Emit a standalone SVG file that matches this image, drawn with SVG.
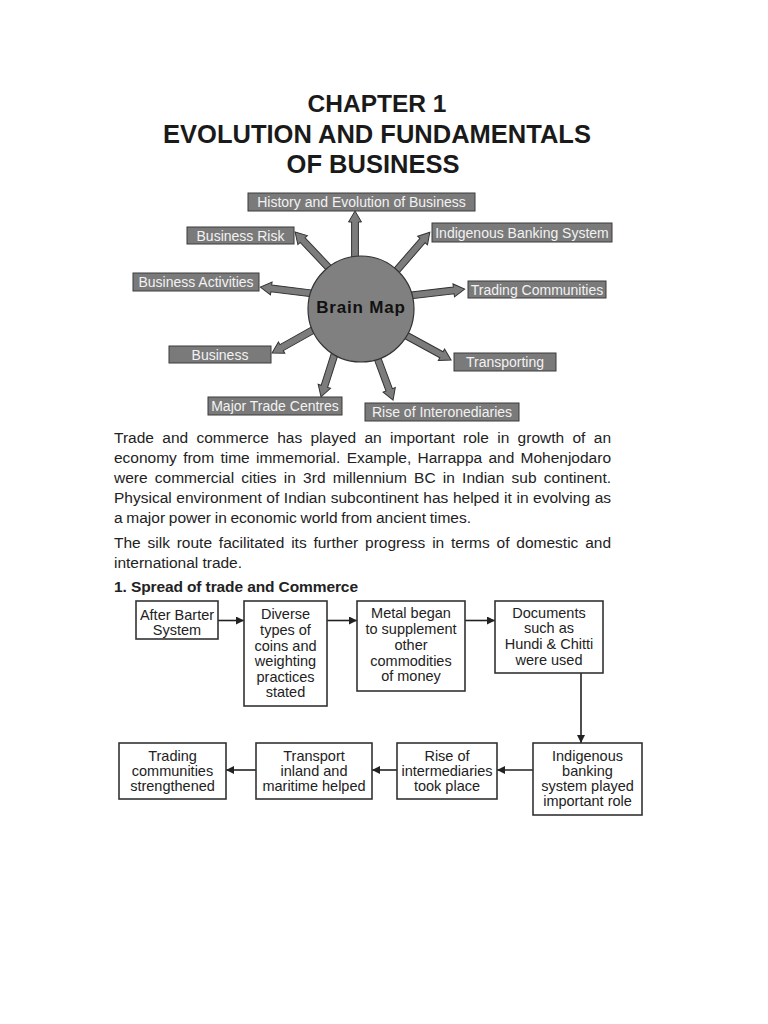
<svg xmlns="http://www.w3.org/2000/svg" width="768" height="1024" viewBox="0 0 768 1024">
<style>
.title{font-family:"Liberation Sans",Arial,sans-serif;font-weight:bold;fill:#1a1a1a;text-anchor:middle}
.mbox{fill:#7a7a7a;stroke:#3a3a3a;stroke-width:1}
.mtxt{font-family:"Liberation Sans",Arial,sans-serif;font-size:14px;fill:#f2f2f2;text-anchor:middle}
.marr{fill:#7c7c7c;stroke:#333;stroke-width:1;stroke-linejoin:miter}
.para{font-family:"Liberation Sans",Arial,sans-serif;font-size:15.5px;fill:#222}
.fbox{fill:#fff;stroke:#333;stroke-width:1.6}
.ftxt{font-family:"Liberation Sans",Arial,sans-serif;font-size:14.5px;fill:#222;text-anchor:middle}
.flink{fill:none;stroke:#222;stroke-width:1.6}
</style>
<defs>
<marker id="ah" markerUnits="userSpaceOnUse" markerWidth="9" markerHeight="8" refX="8" refY="4" orient="auto">
<path d="M0,0 L8,4 L0,8 z" fill="#222"/>
</marker>
</defs>
<rect width="768" height="1024" fill="#fff"/>

<g id="heading">
<text class="title" x="377" y="112" font-size="24.5">CHAPTER 1</text>
<text class="title" x="377" y="143" font-size="25.5">EVOLUTION AND FUNDAMENTALS</text>
<text class="title" x="373" y="173" font-size="25.5">OF BUSINESS</text>
</g>

<g id="brain-connectors">
<polygon class="marr" transform="translate(355,257) rotate(-90)" points="-10,-3.4 35,-3.4 35,-6.5 46,0 35,6.5 35,3.4 -10,3.4"/>
<polygon class="marr" transform="translate(328,267) rotate(-133.3)" points="-10,-3.4 37,-3.4 37,-6.5 48,0 37,6.5 37,3.4 -10,3.4"/>
<polygon class="marr" transform="translate(397,270) rotate(-49)" points="-10,-3.4 39,-3.4 39,-6.5 50,0 39,6.5 39,3.4 -10,3.4"/>
<polygon class="marr" transform="translate(308,293) rotate(-172.9)" points="-10,-3.4 37,-3.4 37,-6.5 48,0 37,6.5 37,3.4 -10,3.4"/>
<polygon class="marr" transform="translate(415,295) rotate(-6.8)" points="-10,-3.4 39,-3.4 39,-6.5 50,0 39,6.5 39,3.4 -10,3.4"/>
<polygon class="marr" transform="translate(313,330) rotate(150.7)" points="-10,-3.4 36,-3.4 36,-6.5 47,0 36,6.5 36,3.4 -10,3.4"/>
<polygon class="marr" transform="translate(335,353) rotate(107.7)" points="-10,-3.4 35,-3.4 35,-6.5 46,0 35,6.5 35,3.4 -10,3.4"/>
<polygon class="marr" transform="translate(377,357) rotate(69.6)" points="-10,-3.4 35,-3.4 35,-6.5 46,0 35,6.5 35,3.4 -10,3.4"/>
<polygon class="marr" transform="translate(409,337) rotate(28.7)" points="-10,-3.4 37,-3.4 37,-6.5 48,0 37,6.5 37,3.4 -10,3.4"/>
</g>

<g id="brain-map">
<circle cx="361" cy="309" r="53" fill="#808080" stroke="#333" stroke-width="1.2"/>
<text x="361" y="313" font-family="'Liberation Sans',Arial,sans-serif" font-weight="bold" font-size="17" letter-spacing="0.8" fill="#111" text-anchor="middle">Brain Map</text>
</g>
<g id="m-history"><rect class="mbox" x="248" y="193" width="227" height="18"/><text class="mtxt" x="361.5" y="207">History and Evolution of Business</text></g>
<g id="m-risk"><rect class="mbox" x="187" y="227" width="107" height="17"/><text class="mtxt" x="240.5" y="240.5">Business Risk</text></g>
<g id="m-banking"><rect class="mbox" x="432" y="223" width="180" height="19"/><text class="mtxt" x="522" y="237.5">Indigenous Banking System</text></g>
<g id="m-activities"><rect class="mbox" x="133" y="273" width="126" height="18"/><text class="mtxt" x="196" y="287">Business Activities</text></g>
<g id="m-trading"><rect class="mbox" x="468" y="281" width="138" height="17"/><text class="mtxt" x="537" y="294.5">Trading Communities</text></g>
<g id="m-business"><rect class="mbox" x="169" y="346" width="102" height="17"/><text class="mtxt" x="220" y="359.5">Business</text></g>
<g id="m-centres"><rect class="mbox" x="208" y="397" width="134" height="18"/><text class="mtxt" x="275" y="411">Major Trade Centres</text></g>
<g id="m-rise"><rect class="mbox" x="365" y="403" width="154" height="18"/><text class="mtxt" x="442" y="417">Rise of Interonediaries</text></g>
<g id="m-transport"><rect class="mbox" x="454" y="353" width="102" height="18"/><text class="mtxt" x="505" y="367">Transporting</text></g>

<g id="paragraph">
<text class="para" x="114" y="442.5" word-spacing="4" textLength="497" lengthAdjust="spacing">Trade and commerce has played an important role in growth of an</text>
<text class="para" x="114" y="462.8" word-spacing="2" textLength="497" lengthAdjust="spacing">economy from time immemorial. Example, Harrappa and Mohenjodaro</text>
<text class="para" x="114" y="483.2" word-spacing="2.9" textLength="497" lengthAdjust="spacing">were commercial cities in 3rd millennium BC in Indian sub continent.</text>
<text class="para" x="114" y="503.3" word-spacing="0.3" textLength="497" lengthAdjust="spacing">Physical environment of Indian subcontinent has helped it in evolving as</text>
<text class="para" x="114" y="522.8" word-spacing="-0.6" textLength="357" lengthAdjust="spacing">a major power in economic world from ancient times.</text>
<text class="para" x="114" y="548.3" word-spacing="2.5" textLength="497" lengthAdjust="spacing">The silk route facilitated its further progress in terms of domestic and</text>
<text class="para" x="114" y="568.3" textLength="128" lengthAdjust="spacing">international trade.</text>
<text class="para" x="114" y="592" font-weight="bold" textLength="244" lengthAdjust="spacing">1. Spread of trade and Commerce</text>
</g>

<g id="flow-connectors">
<line class="flink" x1="218" y1="620.5" x2="244" y2="620.5" marker-end="url(#ah)"/>
<line class="flink" x1="327" y1="620.5" x2="357" y2="620.5" marker-end="url(#ah)"/>
<line class="flink" x1="465" y1="620.5" x2="495" y2="620.5" marker-end="url(#ah)"/>
<line class="flink" x1="581" y1="673" x2="581" y2="743" marker-end="url(#ah)"/>
<line class="flink" x1="533" y1="770" x2="497" y2="770" marker-end="url(#ah)"/>
<line class="flink" x1="397" y1="770" x2="372" y2="770" marker-end="url(#ah)"/>
<line class="flink" x1="256" y1="770" x2="226" y2="770" marker-end="url(#ah)"/>
</g>

<g id="f-barter"><rect class="fbox" x="136" y="601" width="82" height="38"/>
<text class="ftxt" x="177" y="620">After Barter</text><text class="ftxt" x="177" y="635">System</text></g>
<g id="f-coins"><rect class="fbox" x="244" y="601" width="83" height="105"/>
<text class="ftxt" x="285.5" y="619">Diverse</text><text class="ftxt" x="285.5" y="635">types of</text><text class="ftxt" x="285.5" y="651">coins and</text><text class="ftxt" x="285.5" y="666">weighting</text><text class="ftxt" x="285.5" y="682">practices</text><text class="ftxt" x="285.5" y="697">stated</text></g>
<g id="f-metal"><rect class="fbox" x="357" y="601" width="108" height="90"/>
<text class="ftxt" x="411" y="618">Metal began</text><text class="ftxt" x="411" y="634">to supplement</text><text class="ftxt" x="411" y="650">other</text><text class="ftxt" x="411" y="666">commodities</text><text class="ftxt" x="411" y="681">of money</text></g>
<g id="f-documents"><rect class="fbox" x="495" y="601" width="108" height="72"/>
<text class="ftxt" x="549" y="618">Documents</text><text class="ftxt" x="549" y="633">such as</text><text class="ftxt" x="549" y="649">Hundi &amp; Chitti</text><text class="ftxt" x="549" y="665">were used</text></g>
<g id="f-banking"><rect class="fbox" x="533" y="743" width="109" height="72"/>
<text class="ftxt" x="587.5" y="761">Indigenous</text><text class="ftxt" x="587.5" y="776">banking</text><text class="ftxt" x="587.5" y="791">system played</text><text class="ftxt" x="587.5" y="806">important role</text></g>
<g id="f-rise"><rect class="fbox" x="397" y="743" width="100" height="56"/>
<text class="ftxt" x="447" y="761">Rise of</text><text class="ftxt" x="447" y="776">intermediaries</text><text class="ftxt" x="447" y="791">took place</text></g>
<g id="f-transport"><rect class="fbox" x="256" y="743" width="116" height="56"/>
<text class="ftxt" x="314" y="761">Transport</text><text class="ftxt" x="314" y="776">inland and</text><text class="ftxt" x="314" y="791">maritime helped</text></g>
<g id="f-trading"><rect class="fbox" x="119" y="743" width="107" height="56"/>
<text class="ftxt" x="172.5" y="761">Trading</text><text class="ftxt" x="172.5" y="776">communities</text><text class="ftxt" x="172.5" y="791">strengthened</text></g>
</svg>
